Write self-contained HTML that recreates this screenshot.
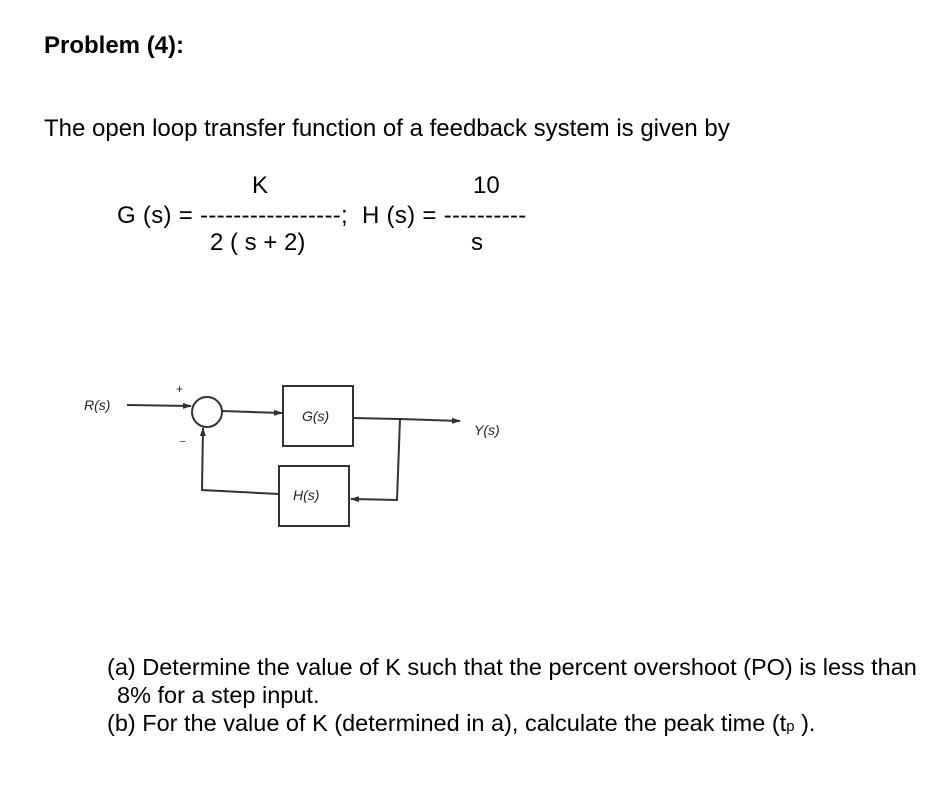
<!DOCTYPE html>
<html><head><meta charset="utf-8"><style>
body{margin:0;background:#fff;width:948px;height:804px;position:relative;overflow:hidden;font-family:"Liberation Sans",Arial,sans-serif;color:#000}
.t{position:absolute;font-size:24px;white-space:pre;line-height:1}
</style></head><body>
<div class="t" style="left:44px;top:34px;font-weight:bold">Problem (4):</div>
<div class="t" style="left:44px;top:117px">The open loop transfer function of a feedback system is given by</div>
<div class="t" style="left:252px;top:174px">K</div>
<div class="t" style="left:473px;top:174px">10</div>
<div class="t" style="left:117px;top:204px;letter-spacing:0.3px">G (s) = -----------------;  H (s) = ----------</div>
<div class="t" style="left:210px;top:231px">2 ( s + 2)</div>
<div class="t" style="left:471px;top:231px">s</div>

<svg style="position:absolute;left:0;top:0" width="948" height="804">
<defs><marker id="a" markerWidth="9" markerHeight="8" refX="8" refY="4" orient="auto" markerUnits="userSpaceOnUse"><path d="M0,1 L9,4 L0,7 z" fill="#333"/></marker></defs>
<g stroke="#333" stroke-width="2" fill="none">
<circle cx="207" cy="412" r="15"/>
<rect x="283" y="386" width="70" height="60"/>
<rect x="279" y="466" width="70" height="60"/>
<line x1="127" y1="405" x2="191" y2="406" marker-end="url(#a)"/>
<line x1="222" y1="411" x2="282" y2="413" marker-end="url(#a)"/>
<polyline points="353,418 400,419 460,421" marker-end="url(#a)"/>
<polyline points="400,419 397,500 351,499" marker-end="url(#a)"/>
<polyline points="279,494 202,490 203,428" marker-end="url(#a)"/>
</g>
<g font-family="Liberation Sans,sans-serif" font-style="italic" font-size="14" fill="#222">
<text x="84" y="410">R(s)</text>
<text x="302" y="421">G(s)</text>
<text x="293" y="500">H(s)</text>
<text x="474" y="435">Y(s)</text>
<text x="176" y="393" font-style="normal" font-size="12">+</text>
<text x="180" y="444" font-style="normal" font-size="10">–</text>
</g>
</svg>

<div class="t" style="left:107px;top:656px;font-size:23.5px">(a) Determine the value of K such that the percent overshoot (PO) is less than</div>
<div class="t" style="left:117px;top:684px;font-size:23.5px">8% for a step input.</div>
<div class="t" style="left:107px;top:712px;font-size:23.5px">(b) For the value of K (determined in a), calculate the peak time (t<span style="font-size:15px">p</span> ).</div>
</body></html>
